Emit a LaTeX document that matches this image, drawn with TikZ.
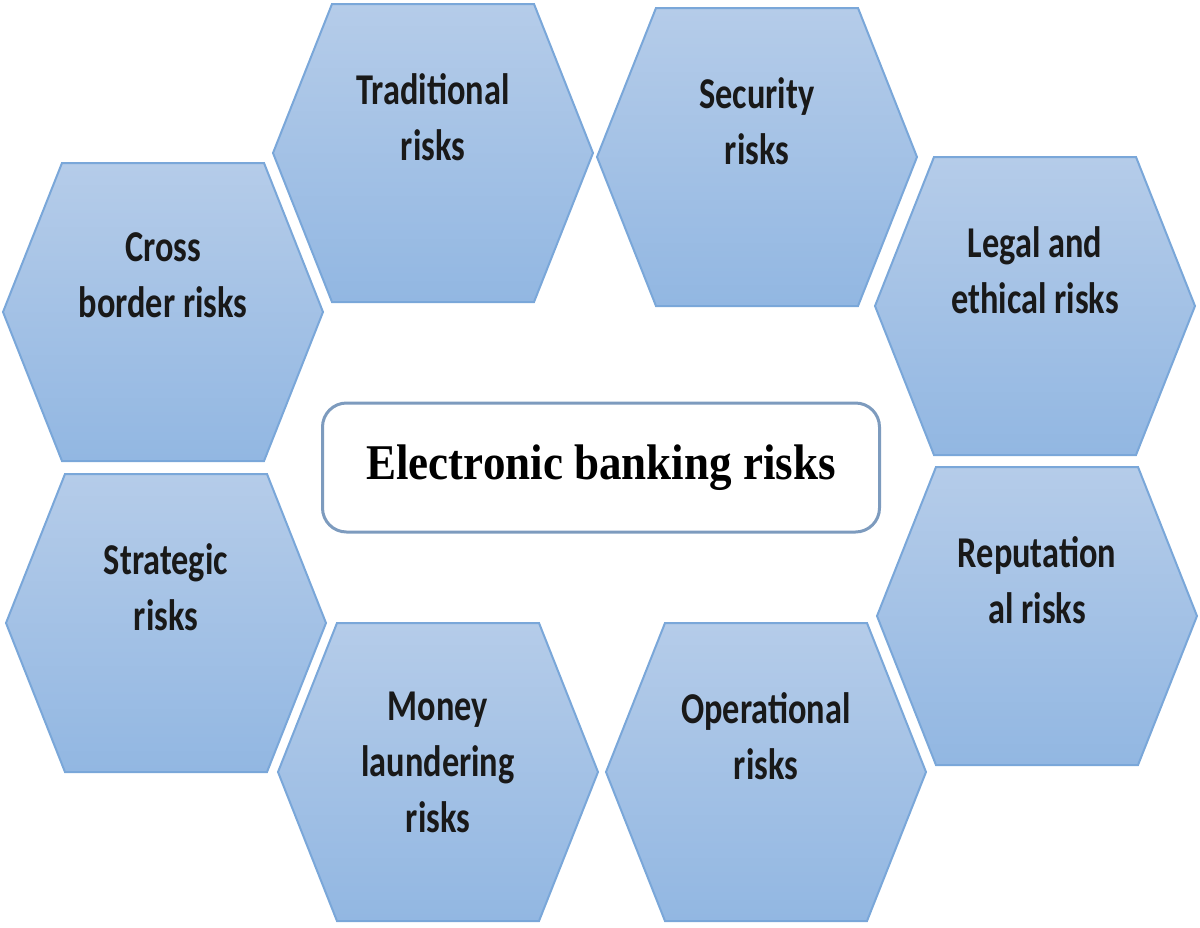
\documentclass[tikz,border=0pt]{standalone}
\usepackage{fontspec}
\usepackage{tikz}
\newfontfamily\hexfont[FakeStretch=0.78]{Carlito}
\newfontfamily\titlefont[FakeStretch=0.9]{Liberation Serif}
\definecolor{hextop}{RGB}{181,204,233}
\definecolor{hexbot}{RGB}{146,183,226}
\definecolor{hexline}{RGB}{122,167,217}
\definecolor{boxline}{RGB}{125,155,190}

\begin{document}
\begin{tikzpicture}[x=0.5pt,y=-0.5pt,
	hexa/.style={draw=hexline,line width=1pt,top color=hextop,bottom color=hexbot},
	hexlabel/.style={anchor=north,inner sep=0pt,align=center,text=black!90,
		font=\hexfont\bfseries\fontsize{22}{28}\selectfont,execute at begin node=\strut},
	centerbox/.style={draw=boxline,line width=1.5pt,fill=white,rounded corners=12pt,
		minimum width=278.5pt,minimum height=64.5pt,font=\titlefont\bfseries\fontsize{25}{30}\selectfont}]
			\useasboundingbox (0,0) rectangle (1200,927);
			\foreach \nm/\cx/\cy/\txt in {trad/433/153/{Traditional\\risks},sec/757/157/{Security\\risks},
				cross/163/312/{Cross\\border risks},legal/1035/306/{Legal and\\ethical risks},
				strat/166/623/{Strategic\\risks},rep/1037/616/{Reputation\\al risks},
				money/438/772/{Money\\laundering\\risks},oper/766/772/{Operational\\risks}}{
				\draw[hexa] (\cx-160,\cy) -- (\cx-101,\cy-149) -- (\cx+101,\cy-149) -- (\cx+160,\cy) -- (\cx+101,\cy+149) -- (\cx-101,\cy+149) -- cycle;
				\node[hexlabel] (\nm) at (\cx,\cy-80) {\txt};
			}
			\node[centerbox] (ebr) at (601,467.5) {Electronic banking risks};
		\end{tikzpicture}
\end{document}
